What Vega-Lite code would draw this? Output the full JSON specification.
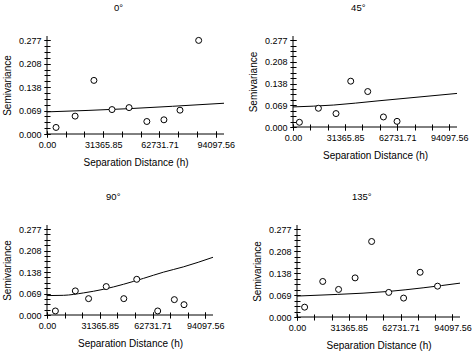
{
  "$schema": "https://vega.github.io/schema/vega-lite/v6.json",
  "padding": {"left": 2, "top": 2, "right": 2, "bottom": 2},
  "config": {
    "font": "Liberation Sans",
    "view": {"stroke": null},
    "axis": {
      "domain": false, "grid": false, "ticks": true, "tickColor": "#000", "tickSize": 6, "tickWidth": 1,
      "offset": -3, "labelFontSize": 9, "labelColor": "#000", "labelPadding": 3, "labelFlush": false,
      "titleFontSize": 10, "titleFontWeight": "normal", "titleColor": "#000"
    },
    "axisX": {"titlePadding": 8},
    "axisY": {"titlePadding": 6},
    "title": {"fontSize": 9.5, "fontWeight": "normal", "color": "#000", "offset": 23, "frame": "bounds", "anchor": "middle"}
  },
  "datasets": {
    "pts": [
      {"dir": "0°", "h": 5041, "g": 0.0194}, {"dir": "0°", "h": 15683, "g": 0.0529}, {"dir": "0°", "h": 26157, "g": 0.1586},
      {"dir": "0°", "h": 36238, "g": 0.0723}, {"dir": "0°", "h": 45760, "g": 0.0781}, {"dir": "0°", "h": 55675, "g": 0.037},
      {"dir": "0°", "h": 65196, "g": 0.042}, {"dir": "0°", "h": 74156, "g": 0.0705}, {"dir": "0°", "h": 84576, "g": 0.277},
      {"dir": "45°", "h": 3853, "g": 0.015}, {"dir": "45°", "h": 15291, "g": 0.0597}, {"dir": "45°", "h": 25887, "g": 0.0428},
      {"dir": "45°", "h": 34737, "g": 0.146}, {"dir": "45°", "h": 44971, "g": 0.113}, {"dir": "45°", "h": 54423, "g": 0.032},
      {"dir": "45°", "h": 62611, "g": 0.018},
      {"dir": "90°", "h": 4981, "g": 0.013}, {"dir": "90°", "h": 16839, "g": 0.0777}, {"dir": "90°", "h": 24725, "g": 0.0527},
      {"dir": "90°", "h": 35219, "g": 0.0916}, {"dir": "90°", "h": 45655, "g": 0.0527}, {"dir": "90°", "h": 53363, "g": 0.115},
      {"dir": "90°", "h": 65814, "g": 0.013}, {"dir": "90°", "h": 75716, "g": 0.0495}, {"dir": "90°", "h": 81467, "g": 0.0333},
      {"dir": "135°", "h": 4615, "g": 0.031}, {"dir": "135°", "h": 15583, "g": 0.112}, {"dir": "135°", "h": 25172, "g": 0.0869},
      {"dir": "135°", "h": 35181, "g": 0.1233}, {"dir": "135°", "h": 45191, "g": 0.238}, {"dir": "135°", "h": 55559, "g": 0.0775},
      {"dir": "135°", "h": 64549, "g": 0.0596}, {"dir": "135°", "h": 74558, "g": 0.141}, {"dir": "135°", "h": 85107, "g": 0.0972}
    ],
    "fit": [
      {"dir": "0°", "h": 0, "g": 0.0655}, {"dir": "0°", "h": 45760, "g": 0.075}, {"dir": "0°", "h": 70000, "g": 0.082}, {"dir": "0°", "h": 98700, "g": 0.091},
      {"dir": "45°", "h": 0, "g": 0.064}, {"dir": "45°", "h": 24500, "g": 0.070}, {"dir": "45°", "h": 50570, "g": 0.083}, {"dir": "45°", "h": 98700, "g": 0.107},
      {"dir": "90°", "h": 0, "g": 0.0625}, {"dir": "90°", "h": 9902, "g": 0.0634}, {"dir": "90°", "h": 21760, "g": 0.0712}, {"dir": "90°", "h": 33620, "g": 0.0829},
      {"dir": "90°", "h": 45480, "g": 0.099}, {"dir": "90°", "h": 57340, "g": 0.118}, {"dir": "90°", "h": 69200, "g": 0.138}, {"dir": "90°", "h": 81050, "g": 0.155},
      {"dir": "90°", "h": 98700, "g": 0.186},
      {"dir": "135°", "h": 0, "g": 0.066}, {"dir": "135°", "h": 24393, "g": 0.0712}, {"dir": "135°", "h": 55559, "g": 0.0806}, {"dir": "135°", "h": 76355, "g": 0.092}, {"dir": "135°", "h": 98700, "g": 0.1067}
    ]
  },
  "spacing": 25,
  "vconcat": [
    {
      "spacing": 13,
      "hconcat": [
        {
          "width": 177, "height": 98, "title": "0°",
          "resolve": {"axis": {"x": "independent", "y": "independent"}},
          "layer": [
            {"data": {"name": "fit"}, "transform": [{"filter": "datum.dir == '0°'"}],
             "mark": {"type": "line", "color": "#000", "strokeWidth": 1, "interpolate": "monotone"},
             "encoding": {
               "x": {"field": "h", "type": "quantitative", "scale": {"domain": [0, 98700], "nice": false},
                     "axis": {"title": "Separation Distance (h)", "orient": "bottom", "values": [0, 31365.85, 62731.71, 94097.56], "format": ".2f"}},
               "y": {"field": "g", "type": "quantitative", "scale": {"domain": [0, 0.29], "nice": false},
                     "axis": {"title": "Semivariance", "orient": "left", "values": [0, 0.06925, 0.1385, 0.20775, 0.277],
                              "labelExpr": "abs(datum.value) < 0.0001 ? '0.000' : abs(datum.value - 0.06925) < 0.0001 ? '0.069' : abs(datum.value - 0.1385) < 0.0001 ? '0.138' : abs(datum.value - 0.20775) < 0.0001 ? '0.208' : '0.277'"}}
             }},
            {"data": {"name": "pts"}, "transform": [{"filter": "datum.dir == '0°'"}],
             "mark": {"type": "point", "shape": "circle", "size": 36, "fill": "#fff", "stroke": "#000", "strokeWidth": 1, "opacity": 1, "filled": true},
             "encoding": {"x": {"field": "h", "type": "quantitative", "axis": null}, "y": {"field": "g", "type": "quantitative", "axis": null}}},
            {"data": {"name": "pts"}, "transform": [{"filter": "datum.dir == '0°'"}],
             "mark": {"type": "point", "opacity": 0},
             "encoding": {
               "x": {"field": "h", "type": "quantitative", "axis": {"orient": "bottom", "title": null, "labels": false, "values": [0, 10455.28, 20910.57, 31365.85, 41821.14, 52276.42, 62731.71, 73186.99, 83642.28, 94097.56]}},
               "y": {"field": "g", "type": "quantitative", "axis": {"orient": "left", "title": null, "labels": false, "values": [0, 0.0173125, 0.034625, 0.0519375, 0.06925, 0.0865625, 0.103875, 0.1211875, 0.1385, 0.1558125, 0.173125, 0.1904375, 0.20775, 0.2250625, 0.242375, 0.2596875, 0.277]}}
             }},
            {"data": {"values": [{}]}, "mark": {"type": "rule", "color": "#000", "strokeWidth": 1}, "encoding": {"x": {"datum": 0, "type": "quantitative", "axis": null}}},
            {"data": {"values": [{}]}, "mark": {"type": "rule", "color": "#000", "strokeWidth": 1}, "encoding": {"y": {"datum": 0, "type": "quantitative", "axis": null}}}
          ]
        },
        {
          "width": 164, "height": 91, "title": "45°",
          "resolve": {"axis": {"x": "independent", "y": "independent"}},
          "layer": [
            {"data": {"name": "fit"}, "transform": [{"filter": "datum.dir == '45°'"}],
             "mark": {"type": "line", "color": "#000", "strokeWidth": 1, "interpolate": "monotone"},
             "encoding": {
               "x": {"field": "h", "type": "quantitative", "scale": {"domain": [0, 98700], "nice": false},
                     "axis": {"title": "Separation Distance (h)", "orient": "bottom", "values": [0, 31365.85, 62731.71, 94097.56], "format": ".2f"}},
               "y": {"field": "g", "type": "quantitative", "scale": {"domain": [0, 0.29], "nice": false},
                     "axis": {"title": "Semivariance", "orient": "left", "values": [0, 0.06925, 0.1385, 0.20775, 0.277],
                              "labelExpr": "abs(datum.value) < 0.0001 ? '0.000' : abs(datum.value - 0.06925) < 0.0001 ? '0.069' : abs(datum.value - 0.1385) < 0.0001 ? '0.138' : abs(datum.value - 0.20775) < 0.0001 ? '0.208' : '0.277'"}}
             }},
            {"data": {"name": "pts"}, "transform": [{"filter": "datum.dir == '45°'"}],
             "mark": {"type": "point", "shape": "circle", "size": 36, "fill": "#fff", "stroke": "#000", "strokeWidth": 1, "opacity": 1, "filled": true},
             "encoding": {"x": {"field": "h", "type": "quantitative", "axis": null}, "y": {"field": "g", "type": "quantitative", "axis": null}}},
            {"data": {"name": "pts"}, "transform": [{"filter": "datum.dir == '45°'"}],
             "mark": {"type": "point", "opacity": 0},
             "encoding": {
               "x": {"field": "h", "type": "quantitative", "axis": {"orient": "bottom", "title": null, "labels": false, "values": [0, 10455.28, 20910.57, 31365.85, 41821.14, 52276.42, 62731.71, 73186.99, 83642.28, 94097.56]}},
               "y": {"field": "g", "type": "quantitative", "axis": {"orient": "left", "title": null, "labels": false, "values": [0, 0.0173125, 0.034625, 0.0519375, 0.06925, 0.0865625, 0.103875, 0.1211875, 0.1385, 0.1558125, 0.173125, 0.1904375, 0.20775, 0.2250625, 0.242375, 0.2596875, 0.277]}}
             }},
            {"data": {"values": [{}]}, "mark": {"type": "rule", "color": "#000", "strokeWidth": 1}, "encoding": {"x": {"datum": 0, "type": "quantitative", "axis": null}}},
            {"data": {"values": [{}]}, "mark": {"type": "rule", "color": "#000", "strokeWidth": 1}, "encoding": {"y": {"datum": 0, "type": "quantitative", "axis": null}}}
          ]
        }
      ]
    },
    {
      "spacing": 27,
      "hconcat": [
        {
          "width": 166, "height": 90, "title": "90°",
          "resolve": {"axis": {"x": "independent", "y": "independent"}},
          "layer": [
            {"data": {"name": "fit"}, "transform": [{"filter": "datum.dir == '90°'"}],
             "mark": {"type": "line", "color": "#000", "strokeWidth": 1, "interpolate": "monotone"},
             "encoding": {
               "x": {"field": "h", "type": "quantitative", "scale": {"domain": [0, 98700], "nice": false},
                     "axis": {"title": "Separation Distance (h)", "orient": "bottom", "values": [0, 31365.85, 62731.71, 94097.56], "format": ".2f"}},
               "y": {"field": "g", "type": "quantitative", "scale": {"domain": [0, 0.29], "nice": false},
                     "axis": {"title": "Semivariance", "orient": "left", "values": [0, 0.06925, 0.1385, 0.20775, 0.277],
                              "labelExpr": "abs(datum.value) < 0.0001 ? '0.000' : abs(datum.value - 0.06925) < 0.0001 ? '0.069' : abs(datum.value - 0.1385) < 0.0001 ? '0.138' : abs(datum.value - 0.20775) < 0.0001 ? '0.208' : '0.277'"}}
             }},
            {"data": {"name": "pts"}, "transform": [{"filter": "datum.dir == '90°'"}],
             "mark": {"type": "point", "shape": "circle", "size": 36, "fill": "#fff", "stroke": "#000", "strokeWidth": 1, "opacity": 1, "filled": true},
             "encoding": {"x": {"field": "h", "type": "quantitative", "axis": null}, "y": {"field": "g", "type": "quantitative", "axis": null}}},
            {"data": {"name": "pts"}, "transform": [{"filter": "datum.dir == '90°'"}],
             "mark": {"type": "point", "opacity": 0},
             "encoding": {
               "x": {"field": "h", "type": "quantitative", "axis": {"orient": "bottom", "title": null, "labels": false, "values": [0, 10455.28, 20910.57, 31365.85, 41821.14, 52276.42, 62731.71, 73186.99, 83642.28, 94097.56]}},
               "y": {"field": "g", "type": "quantitative", "axis": {"orient": "left", "title": null, "labels": false, "values": [0, 0.0173125, 0.034625, 0.0519375, 0.06925, 0.0865625, 0.103875, 0.1211875, 0.1385, 0.1558125, 0.173125, 0.1904375, 0.20775, 0.2250625, 0.242375, 0.2596875, 0.277]}}
             }},
            {"data": {"values": [{}]}, "mark": {"type": "rule", "color": "#000", "strokeWidth": 1}, "encoding": {"x": {"datum": 0, "type": "quantitative", "axis": null}}},
            {"data": {"values": [{}]}, "mark": {"type": "rule", "color": "#000", "strokeWidth": 1}, "encoding": {"y": {"datum": 0, "type": "quantitative", "axis": null}}}
          ]
        },
        {
          "width": 163, "height": 92, "title": "135°",
          "resolve": {"axis": {"x": "independent", "y": "independent"}},
          "layer": [
            {"data": {"name": "fit"}, "transform": [{"filter": "datum.dir == '135°'"}],
             "mark": {"type": "line", "color": "#000", "strokeWidth": 1, "interpolate": "monotone"},
             "encoding": {
               "x": {"field": "h", "type": "quantitative", "scale": {"domain": [0, 98700], "nice": false},
                     "axis": {"title": "Separation Distance (h)", "orient": "bottom", "values": [0, 31365.85, 62731.71, 94097.56], "format": ".2f"}},
               "y": {"field": "g", "type": "quantitative", "scale": {"domain": [0, 0.29], "nice": false},
                     "axis": {"title": "Semivariance", "orient": "left", "values": [0, 0.06925, 0.1385, 0.20775, 0.277],
                              "labelExpr": "abs(datum.value) < 0.0001 ? '0.000' : abs(datum.value - 0.06925) < 0.0001 ? '0.069' : abs(datum.value - 0.1385) < 0.0001 ? '0.138' : abs(datum.value - 0.20775) < 0.0001 ? '0.208' : '0.277'"}}
             }},
            {"data": {"name": "pts"}, "transform": [{"filter": "datum.dir == '135°'"}],
             "mark": {"type": "point", "shape": "circle", "size": 36, "fill": "#fff", "stroke": "#000", "strokeWidth": 1, "opacity": 1, "filled": true},
             "encoding": {"x": {"field": "h", "type": "quantitative", "axis": null}, "y": {"field": "g", "type": "quantitative", "axis": null}}},
            {"data": {"name": "pts"}, "transform": [{"filter": "datum.dir == '135°'"}],
             "mark": {"type": "point", "opacity": 0},
             "encoding": {
               "x": {"field": "h", "type": "quantitative", "axis": {"orient": "bottom", "title": null, "labels": false, "values": [0, 10455.28, 20910.57, 31365.85, 41821.14, 52276.42, 62731.71, 73186.99, 83642.28, 94097.56]}},
               "y": {"field": "g", "type": "quantitative", "axis": {"orient": "left", "title": null, "labels": false, "values": [0, 0.0173125, 0.034625, 0.0519375, 0.06925, 0.0865625, 0.103875, 0.1211875, 0.1385, 0.1558125, 0.173125, 0.1904375, 0.20775, 0.2250625, 0.242375, 0.2596875, 0.277]}}
             }},
            {"data": {"values": [{}]}, "mark": {"type": "rule", "color": "#000", "strokeWidth": 1}, "encoding": {"x": {"datum": 0, "type": "quantitative", "axis": null}}},
            {"data": {"values": [{}]}, "mark": {"type": "rule", "color": "#000", "strokeWidth": 1}, "encoding": {"y": {"datum": 0, "type": "quantitative", "axis": null}}}
          ]
        }
      ]
    }
  ]
}
